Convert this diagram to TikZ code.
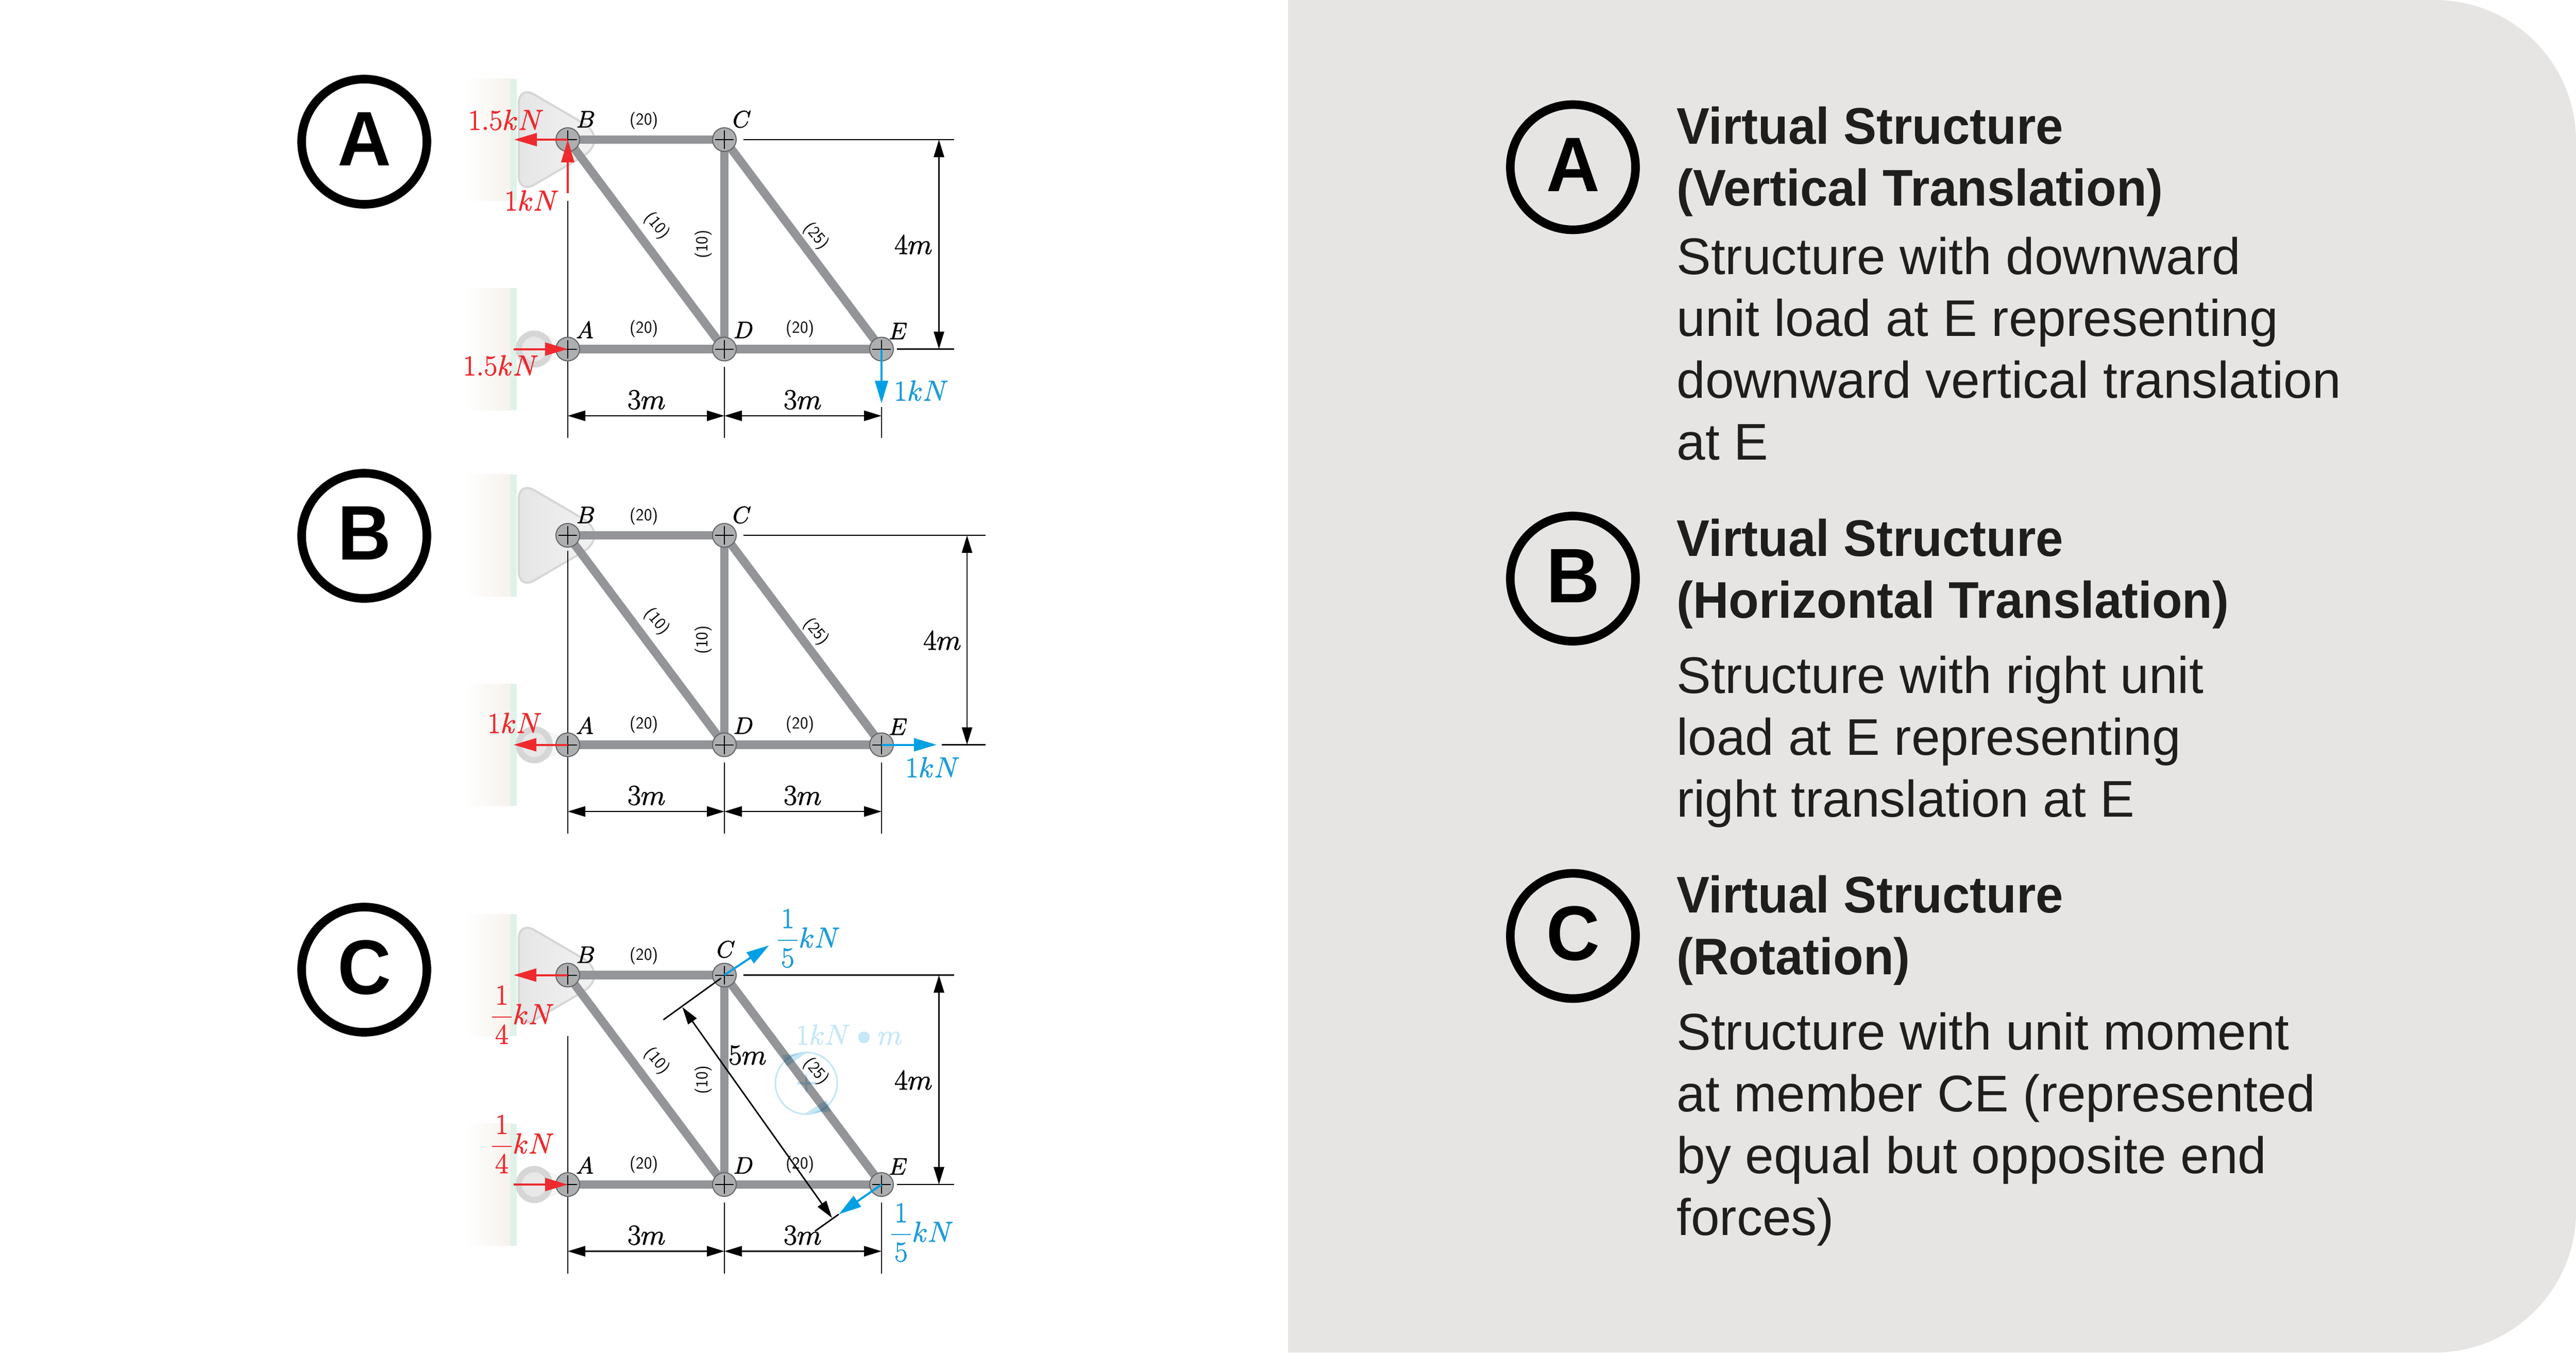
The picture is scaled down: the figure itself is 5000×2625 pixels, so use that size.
\documentclass[tikz,border=0pt]{standalone}
\usepackage{fix-cm}
\usepackage{amsmath}
\usepackage[no-math]{fontspec}
\usepackage{xcolor}
\usetikzlibrary{arrows.meta,backgrounds}
\newfontfamily\uifont{Liberation Sans}[BoldFeatures={FakeStretch=0.96}]
\definecolor{panelgray}{HTML}{E6E5E3}
\definecolor{membergray}{HTML}{939598}
\definecolor{jointfill}{HTML}{ADAEB0}
\definecolor{jointedge}{HTML}{636466}
\definecolor{walltan}{HTML}{F6F2EC}
\definecolor{wallgreen}{HTML}{DFF2E8}
\definecolor{supportedge}{HTML}{D6D6D7}
\definecolor{loadred}{HTML}{EE2A2E}
\definecolor{unitblue}{HTML}{00A0E4}
\definecolor{unittext}{HTML}{1C9CD8}
\definecolor{momentblue}{HTML}{C6E7F6}
\definecolor{inktext}{HTML}{1E1E1C}
\newcommand{\heavyink}{\special{pdf:code 2 Tr 0.45 w}}

\begin{document}
\begin{tikzpicture}[x=0.5pt,y=-0.5pt]
  \tikzstyle{joint node}=[circle,draw=jointedge,fill=jointfill,line width=1pt,minimum size=23pt,inner sep=0,
    path picture={\draw[black,line width=1pt] (path picture bounding box.center) +(-18,0) -- +(18,0) +(0,-18) -- +(0,18);}]
  \tikzstyle{member line}=[membergray,line width=8.25pt]
  \tikzstyle{dim line}=[black,line width=1.4pt]
  \tikzstyle{dim arrow}=[dim line,{Triangle[length=17pt,width=10pt]}-{Triangle[length=17pt,width=10pt]}]
  \tikzstyle{red arrow}=[loadred,line width=2pt,-{Triangle[length=22pt,width=12.5pt]}]
  \tikzstyle{blue arrow}=[unitblue,line width=2pt,-{Triangle[length=22pt,width=12.5pt]}]
  \tikzstyle{big lab}=[inner sep=0,font=\fontsize{28}{30}\selectfont\heavyink]
  \tikzstyle{joint lab}=[inner sep=0,font=\fontsize{23}{25}\selectfont\heavyink]
  \tikzstyle{bar lab}=[inner sep=0,font=\sffamily\fontsize{16.5}{18}\selectfont]
  \tikzstyle{badge node}=[circle,draw=black,line width=8.35pt,minimum size=121.5pt,inner sep=0,text depth=5pt,
    font=\uifont\bfseries\fontsize{75}{75}\selectfont]
  \tikzstyle{head node}=[anchor=base west,inner sep=0,align=left,text=inktext,
    font=\uifont\bfseries\fontsize{50}{60}\selectfont]
  \tikzstyle{body node}=[anchor=base west,inner sep=0,align=left,text=inktext,
    font=\uifont\fontsize{50}{60}\selectfont]
  \useasboundingbox (0,0) rectangle (5000,2625);
  \begin{scope}[on background layer]
    \fill[panelgray] (2500,0) [rounded corners=137pt] -- (5000,0) -- (5000,2625) [sharp corners] -- (2500,2625) -- cycle;
  \end{scope}
  \foreach \p/\yo/\lsa/\lse/\dx/\dend/\dbeg/\lx/\cx/\cy in
    {a/271/119/519/1822.5/1852/1741/1773/1440/-39.5,
     b/1039/30/441/1877/1913/1828/1829/1440/-39.5,
     c/1892.5/118.5/441/1822.5/1852/1741/1773/1409/-50}{
    \begin{scope}[shift={(0,\yo)}]
      \node(\p-B)[joint node] at (1102,0) {};
      \node(\p-C)[joint node] at (1406,0) {};
      \node(\p-A)[joint node] at (1102,406.5) {};
      \node(\p-D)[joint node] at (1406,406.5) {};
      \node(\p-E)[joint node] at (1711,406.5) {};
      \coordinate (\p-w1) at (1102,\lsa);
      \coordinate (\p-w2) at (1102,579);
      \coordinate (\p-w3) at (1406,441);
      \coordinate (\p-w4) at (1406,579);
      \coordinate (\p-w5) at (1711,\lse);
      \coordinate (\p-w6) at (1711,579);
      \coordinate (\p-h1) at (1102,536);
      \coordinate (\p-h2) at (1406,536);
      \coordinate (\p-h3) at (1711,536);
      \coordinate (\p-t1) at (1443,0);
      \coordinate (\p-t2) at (\dend,0);
      \coordinate (\p-t3) at (\dbeg,406.5);
      \coordinate (\p-t4) at (\dend,406.5);
      \coordinate (\p-v1) at (\dx,0);
      \coordinate (\p-v2) at (\dx,406.5);
      \begin{scope}[on background layer]
        \shade[left color=white,right color=walltan] (903,-118.5) rectangle (991,118.5);
        \fill[wallgreen] (991,-118.5) rectangle (1003,118.5);
        \shade[left color=white,right color=walltan] (903,288) rectangle (991,525);
        \fill[wallgreen] (991,288) rectangle (1003,525);
        \draw[supportedge,line width=2pt,left color=black!10,right color=black!4] (1007,0) [rounded corners=17pt] -- (1007,-105) [rounded corners=33pt] -- (1187,0) [rounded corners=17pt] -- (1007,105) [sharp corners] -- cycle;
        \draw[black!5,line width=1pt,fill=black!3] (1062,381) -- (1095,396) -- (1095,417) -- (1062,432) -- cycle;
        \draw[supportedge,line width=6pt,fill=black!9] (1037,406.5) circle (30);
        \draw[dim line] (\p-w1) -- (\p-w2);
        \draw[dim line] (\p-w3) -- (\p-w4);
        \draw[dim line] (\p-w5) -- (\p-w6);
        \draw[member line] (\p-B.center) -- (\p-C.center);
        \draw[member line] (\p-A.center) -- (\p-D.center);
        \draw[member line] (\p-D.center) -- (\p-E.center);
        \draw[member line] (\p-B.center) -- (\p-D.center);
        \draw[member line] (\p-C.center) -- (\p-D.center);
        \draw[member line] (\p-C.center) -- (\p-E.center);
        \draw[dim line] (\p-t1) -- (\p-t2);
        \draw[dim line] (\p-t3) -- (\p-t4);
      \end{scope}
      \draw[dim arrow] (\p-h1) -- (\p-h2);
      \draw[dim arrow] (\p-h2) -- (\p-h3);
      \draw[dim arrow] (\p-v1) -- (\p-v2);
      \node(\p-lB)[joint lab] at (1137,-39.5) {$B$};
      \node(\p-lC)[joint lab] at (\cx,\cy) {$C$};
      \node(\p-lA)[joint lab] at (1135,369.5) {$A$};
      \node(\p-lD)[joint lab] at (1443,369.5) {$D$};
      \node(\p-lE)[joint lab] at (1743,371.5) {$E$};
      \node(\p-mBC)[bar lab] at (1250,-37) {(20)};
      \node(\p-mAD)[bar lab] at (1250,367.5) {(20)};
      \node(\p-mDE)[bar lab] at (1553,367.5) {(20)};
      \node(\p-mBD)[bar lab,rotate=-50] at (1275,167) {(10)};
      \node(\p-mCD)[bar lab,rotate=90] at (1365,203) {(10)};
      \node(\p-mCE)[bar lab,rotate=-50] at (1584,187) {(25)};
      \node(\p-dL)[big lab] at (1255,505) {$3m$};
      \node(\p-dR)[big lab] at (1558,505) {$3m$};
      \node(\p-dH)[big lab] at (\lx,204) {$4m$};
    \end{scope}
  }
  \node(aBadge)[badge node] at (707,275) {A};
  \node(bBadge)[badge node] at (707,1040) {B};
  \node(cBadge)[badge node] at (707,1882) {C};
  \coordinate (a-f1) at (998,271);
  \coordinate (a-f2) at (1102,375);
  \coordinate (a-f3) at (997,677.5);
  \coordinate (a-f4) at (1711,783);
  \draw[red arrow] (a-B.center) -- (a-f1);
  \draw[red arrow] (a-f2) -- (a-B.center);
  \draw[red arrow] (a-f3) -- (a-A.center);
  \draw[blue arrow] (a-E.center) -- (a-f4);
  \node(a-q1)[big lab,text=loadred] at (982,232.5) {$1.5kN$};
  \node(a-q2)[big lab,text=loadred] at (1032,389) {$1kN$};
  \node(a-q3)[big lab,text=loadred] at (972,709) {$1.5kN$};
  \node(a-q4)[big lab,text=unittext] at (1788,758) {$1kN$};
  \coordinate (b-f1) at (997,1445.5);
  \coordinate (b-f2) at (1818,1445.5);
  \draw[red arrow] (b-A.center) -- (b-f1);
  \draw[blue arrow] (b-E.center) -- (b-f2);
  \node(b-q1)[big lab,text=loadred] at (999,1403) {$1kN$};
  \node(b-q2)[big lab,text=unittext] at (1810,1489) {$1kN$};
  \coordinate (c-f1) at (997,1892.5);
  \coordinate (c-f2) at (997,2299);
  \coordinate (c-f3) at (1492.7,1834.8);
  \coordinate (c-f4) at (1628,2356.7);
  \coordinate (c-p1) at (1399.4,1898.6);
  \coordinate (c-p2) at (1287.6,1979.2);
  \coordinate (c-p3) at (1628,2356.7);
  \coordinate (c-p4) at (1582,2389.4);
  \coordinate (c-s1) at (1324.4,1954.7);
  \coordinate (c-s2) at (1615,2363.9);
  \draw[dim line] (c-p1) -- (c-p2);
  \draw[dim line] (c-p3) -- (c-p4);
  \draw[dim arrow] (c-s1) -- (c-s2);
  \draw[red arrow] (c-B.center) -- (c-f1);
  \draw[red arrow] (c-f2) -- (c-A.center);
  \draw[blue arrow] (c-C.center) -- (c-f3);
  \draw[blue arrow] (c-E.center) -- (c-f4);
  \node(c-q1)[big lab,text=loadred,anchor=base] at (1014,1987.6) {$\dfrac{\mskip2mu1\mskip2mu}{\mskip2mu4\mskip2mu}kN$};
  \node(c-q2)[big lab,text=loadred,anchor=base] at (1014,2238.6) {$\dfrac{\mskip2mu1\mskip2mu}{\mskip2mu4\mskip2mu}kN$};
  \node(c-q3)[big lab,text=unittext,anchor=base] at (1569,1839) {$\dfrac{\mskip2mu1\mskip2mu}{\mskip2mu5\mskip2mu}kN$};
  \node(c-q4)[big lab,text=unittext,anchor=base] at (1789,2410) {$\dfrac{\mskip2mu1\mskip2mu}{\mskip2mu5\mskip2mu}kN$};
  \node(c-q5)[big lab] at (1451,2048) {$5m$};
  \node(c-q6)[big lab,text=momentblue] at (1648,2008) {$1kN\bullet m$};
  \begin{scope}[blend mode=multiply]
    \node(c-ring)[circle,draw=momentblue,line width=1.6pt,minimum size=60pt,inner sep=0] at (1565,2102.5) {};
    \draw[momentblue,line width=2.3pt] (1547,2102.5) -- (1583,2102.5) (1565,2085) -- (1565,2120);
    \fill[momentblue] (1566,2043.5) -- (1518,2048) -- (1527,2070) -- cycle;
    \fill[momentblue] (1563,2161) -- (1604,2135) -- (1613,2157) -- cycle;
  \end{scope}
  \node(aHead)[head node] at (3254,399) {Virtual Structure\\(Vertical Translation)};
  \node(aBody)[body node] at (3254,892.4) {Structure with downward\\unit load at E representing\\downward vertical translation\\at E};
  \node(aMark)[badge node] at (3053,324.5) {A};
  \node(bHead)[head node] at (3254,1199) {Virtual Structure\\(Horizontal Translation)};
  \node(bBody)[body node] at (3254,1585) {Structure with right unit\\load at E representing\\right translation at E};
  \node(bMark)[badge node] at (3053,1123) {B};
  \node(cHead)[head node] at (3254,1891) {Virtual Structure\\(Rotation)};
  \node(cBody)[body node] at (3254,2397) {Structure with unit moment\\at member CE (represented\\by equal but opposite end\\forces)};
  \node(cMark)[badge node] at (3053,1816.5) {C};
\end{tikzpicture}
\end{document}
